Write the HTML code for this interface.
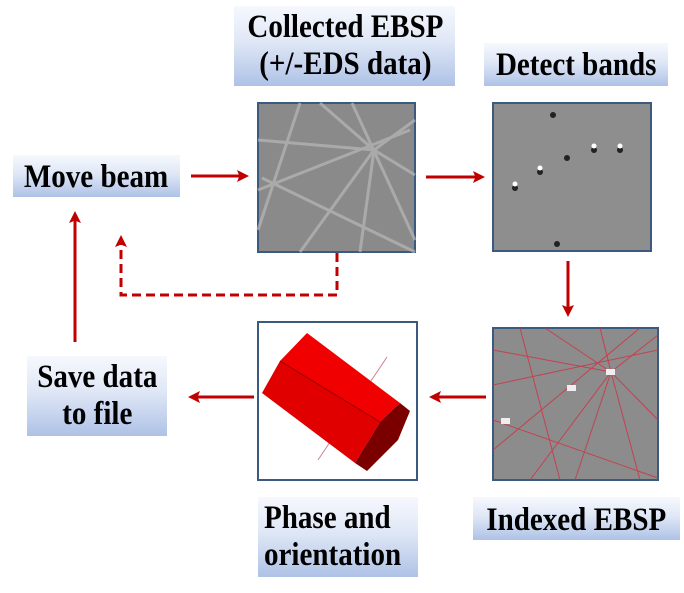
<!DOCTYPE html>
<html><head><meta charset="utf-8"><style>
body{margin:0;background:#fff;width:684px;height:593px;position:relative;overflow:hidden;font-family:"Liberation Serif",serif;}
.lab{position:absolute;background:linear-gradient(#f6f8fd,#dfe7f6 45%,#aec2e6);font-weight:bold;font-size:33px;color:#000;text-align:center;line-height:37px;white-space:nowrap;}
.lab span{display:inline-block;transform:scaleX(0.88);}
svg{position:absolute;left:0;top:0;}
</style></head><body>
<svg width="684" height="593" viewBox="0 0 684 593">
<defs>
<marker id="ah" markerWidth="4" markerHeight="4" refX="2" refY="2" orient="auto" markerUnits="strokeWidth"><path d="M0,0 L4,2 L0,4 L0.8,2 z" fill="#c00000"/></marker>
</defs>
<rect x="258" y="103" width="157" height="149" fill="#8a8a8a" stroke="#3a5a80" stroke-width="2"/>
<g stroke="#b8b8b8" stroke-width="3" opacity="0.7">
<line x1="258" y1="230" x2="300" y2="103"/><line x1="352" y1="103" x2="415" y2="240"/>
<line x1="262" y1="178" x2="415" y2="252"/><line x1="258" y1="190" x2="410" y2="130"/>
<line x1="374" y1="150" x2="300" y2="252"/><line x1="374" y1="150" x2="258" y2="140"/>
<line x1="374" y1="150" x2="360" y2="252"/><line x1="374" y1="150" x2="415" y2="175"/>
<line x1="374" y1="150" x2="320" y2="103"/><line x1="374" y1="150" x2="415" y2="120"/>
</g>
<rect x="493" y="103" width="158" height="148" fill="#8e8e8e" stroke="#3a5a80" stroke-width="2"/>
<g fill="#222"><circle cx="515" cy="188" r="3"/><circle cx="540" cy="172" r="3"/><circle cx="567" cy="158" r="3"/><circle cx="594" cy="150" r="3"/><circle cx="620" cy="150" r="3"/><circle cx="553" cy="115" r="3"/><circle cx="557" cy="244" r="3"/></g>
<g fill="#fff"><circle cx="515" cy="184" r="2.5"/><circle cx="540" cy="168" r="2.5"/><circle cx="594" cy="146" r="2.5"/><circle cx="620" cy="146" r="2.5"/></g>
<rect x="258" y="322" width="159" height="158" fill="#fff" stroke="#3a5a80" stroke-width="2"/>
<line x1="387" y1="357" x2="318" y2="460" stroke="#d08090" stroke-width="1"/>
<polygon points="307,333 280,361 380,422 400,403" fill="#f00000"/>
<polygon points="280,361 262,393 355,463 380,422" fill="#e00000"/>
<polygon points="400,403 410,411 398,440 367,471 355,463 380,422" fill="#7a0000"/>
<line x1="280" y1="361" x2="380" y2="422" stroke="#900" stroke-width="1"/>
<rect x="493" y="328" width="165" height="152" fill="#8c8c8c" stroke="#3a5a80" stroke-width="2"/>
<g stroke="#d03040" stroke-width="1" opacity="0.8">
<line x1="493" y1="420" x2="658" y2="478"/><line x1="493" y1="385" x2="658" y2="350"/>
<line x1="611" y1="372" x2="493" y2="350"/><line x1="611" y1="372" x2="530" y2="480"/>
<line x1="611" y1="372" x2="575" y2="480"/><line x1="611" y1="372" x2="640" y2="480"/>
<line x1="611" y1="372" x2="658" y2="420"/><line x1="611" y1="372" x2="600" y2="328"/>
<line x1="611" y1="372" x2="545" y2="328"/><line x1="611" y1="372" x2="658" y2="335"/>
<line x1="520" y1="328" x2="560" y2="480"/><line x1="493" y1="450" x2="640" y2="328"/>
</g>
<g fill="#eee"><rect x="606" y="369" width="9" height="6"/><rect x="567" y="385" width="9" height="6"/><rect x="501" y="418" width="9" height="6"/></g>
<g stroke="#c00000" stroke-width="3" fill="none">
<line x1="191" y1="176" x2="243" y2="176" marker-end="url(#ah)"/>
<line x1="426" y1="177" x2="479" y2="177" marker-end="url(#ah)"/>
<line x1="568" y1="261" x2="568" y2="311" marker-end="url(#ah)"/>
<line x1="486" y1="397" x2="435" y2="397" marker-end="url(#ah)"/>
<line x1="254" y1="397" x2="194" y2="397" marker-end="url(#ah)"/>
<line x1="75" y1="342" x2="75" y2="217" marker-end="url(#ah)"/>
<polyline points="337,253 337,295 121,295 121,241" stroke-dasharray="9,5" marker-end="url(#ah)"/>
</g>
</svg>
<div class="lab" style="left:234px;top:6px;width:221px;height:80px;padding-top:3px;box-sizing:border-box;"><span>Collected EBSP<br>(+/-EDS data)</span></div>
<div class="lab" style="left:484px;top:43px;width:184px;height:43px;line-height:45px;"><span>Detect bands</span></div>
<div class="lab" style="left:13px;top:155px;width:167px;height:42px;line-height:44px;"><span>Move beam</span></div>
<div class="lab" style="left:27px;top:356px;width:140px;height:80px;padding-top:3px;box-sizing:border-box;"><span>Save data<br>to file</span></div>
<div class="lab" style="left:258px;top:497px;width:160px;height:80px;padding-top:3px;box-sizing:border-box;text-align:left;"><span style="transform-origin:left;margin-left:6px">Phase and<br>orientation</span></div>
<div class="lab" style="left:473px;top:497px;width:207px;height:43px;line-height:47px;"><span>Indexed EBSP</span></div>
</body></html>
